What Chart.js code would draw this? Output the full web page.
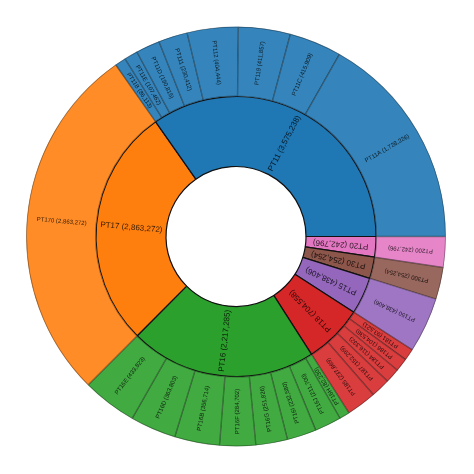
<!DOCTYPE html>
<html>
<head>
<meta charset="utf-8">
<script src="https://cdn.jsdelivr.net/npm/chart.js@4/dist/chart.umd.min.js"></script>
<style>
html, body { margin: 0; padding: 0; background: #fff; }
#wrap { width: 474px; height: 474px; }
</style>
</head>
<body>
<div id="wrap"><canvas id="chart" width="474" height="474"></canvas></div>
<script>
// inner ring, listed clockwise starting at 3 o'clock
const parentNames = ['PT20', 'PT30', 'PT15', 'PT18', 'PT16', 'PT17', 'PT11']
const parentValues = [242796, 254254, 438406, 704558, 2217285, 2863272, 3575238]
const parentColors = ['#e377c2', '#8c564b', '#9467bd', '#d62728', '#2ca02c', '#ff7f0e', '#1f77b4']

// outer ring, same direction
const childNames = [
    'PT200', 'PT300', 'PT150',
    'PT181', 'PT186', 'PT184', 'PT187', 'PT185',
    'PT16H', 'PT16J', 'PT16I', 'PT16G', 'PT16F', 'PT16B', 'PT16D', 'PT16E',
    'PT170',
    'PT11B', 'PT11E', 'PT11D', 'PT111', 'PT112', 'PT119', 'PT11C', 'PT11A'
]
const childValues = [
    242796, 254254, 438406,
    93521, 104536, 116332, 152299, 237869,
    82230, 211700, 232580, 251826, 284702, 356714, 363803, 433823,
    2863272,
    86113, 107462, 190815, 230412, 404444, 411857, 415909, 1728226
]
const childParents = [
    'PT20', 'PT30', 'PT15',
    'PT18', 'PT18', 'PT18', 'PT18', 'PT18',
    'PT16', 'PT16', 'PT16', 'PT16', 'PT16', 'PT16', 'PT16', 'PT16',
    'PT17',
    'PT11', 'PT11', 'PT11', 'PT11', 'PT11', 'PT11', 'PT11', 'PT11'
]

function lighten(hex, k) {
    const n = parseInt(hex.slice(1), 16)
    const c = [n >> 16, (n >> 8) & 255, n & 255].map(v => Math.round(v + (255 - v) * k))
    return 'rgb(' + c.join(',') + ')'
}

const childColors = childParents.map(p => lighten(parentColors[parentNames.indexOf(p)], 0.1))

const ringLabels = {
    id: 'ringLabels',
    afterDatasetsDraw(chart) {
        const ctx = chart.ctx
        chart.data.datasets.forEach((ds, i) => {
            const names = i === 0 ? childNames : parentNames
            const meta = chart.getDatasetMeta(i)
            meta.data.forEach((arc, j) => {
                const p = arc.getProps(['x', 'y', 'startAngle', 'endAngle', 'innerRadius', 'outerRadius'])
                const mid = (p.startAngle + p.endAngle) / 2
                const r = (p.innerRadius + p.outerRadius) / 2
                const a = Math.atan2(Math.sin(mid), Math.cos(mid))
                // text reads outward only in the upper right quarter
                const rot = (a >= -Math.PI / 2 && a <= 0) ? a : a + Math.PI
                ctx.save()
                ctx.translate(p.x + r * Math.cos(mid), p.y + r * Math.sin(mid))
                ctx.rotate(rot)
                ctx.font = (i === 0 ? '6px' : '8px') + ' "Liberation Sans", Arial, sans-serif'
                ctx.fillStyle = 'rgba(0,0,0,0.8)'
                ctx.textAlign = 'center'
                ctx.textBaseline = 'middle'
                ctx.fillText(names[j] + ' (' + ds.data[j].toLocaleString('en-US') + ')', 0, 0)
                ctx.restore()
            })
        })
    }
}

new Chart(document.getElementById('chart'), {
    type: 'doughnut',
    data: {
        datasets: [
            {
                data: childValues,
                backgroundColor: childColors,
                borderColor: 'rgba(0,0,0,0.35)',
                borderWidth: 0.7,
                borderAlign: 'inner'
            },
            {
                data: parentValues,
                backgroundColor: parentColors,
                borderColor: '#111',
                borderWidth: 1.2
            }
        ]
    },
    options: {
        responsive: false,
        animation: false,
        rotation: 90,
        radius: 210,
        cutout: 70,
        layout: { padding: { left: 26, right: 28, top: 26, bottom: 27 } },
        plugins: {
            legend: { display: false },
            tooltip: { enabled: false }
        }
    },
    plugins: [ringLabels]
})
</script>
</body>
</html>
